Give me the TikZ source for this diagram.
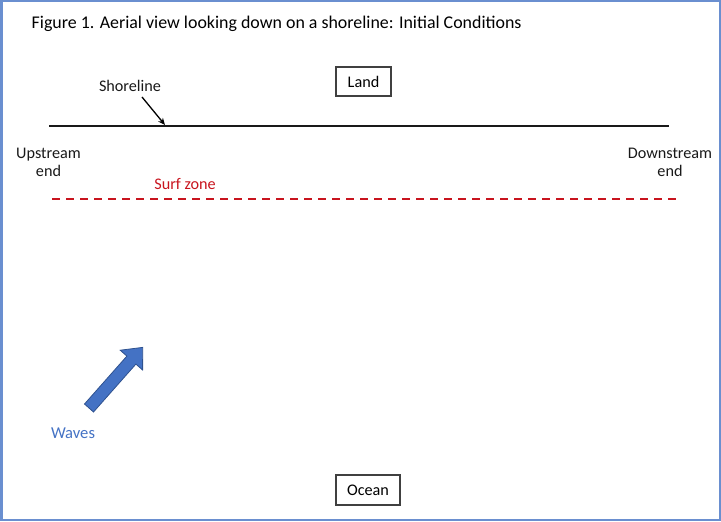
\documentclass[tikz,border=0pt]{standalone}
\usepackage{fontspec}
\setmainfont{Carlito}
\usetikzlibrary{arrows.meta}
\definecolor{frameblue}{HTML}{6A8FD0}
\definecolor{waveblue}{HTML}{4472C4}
\definecolor{waveedge}{HTML}{2F528F}
\definecolor{surfred}{HTML}{C8141E}
\definecolor{boxgrey}{HTML}{404040}
\tikzset{
  lbl/.style={font=\fontsize{16.2bp}{18bp}\selectfont, inner sep=0pt, text=black!90},
  labelbox/.style={draw=boxgrey, line width=1.3bp, inner sep=0pt, font=\fontsize{16.2bp}{18bp}\selectfont},
}
\begin{document}
\begin{tikzpicture}[x=1bp,y=-1bp]
\useasboundingbox (0,0) rectangle (721,522);
\draw[frameblue, line width=2bp] (1.5,1.5) rectangle (719.5,520);
% title
\node[lbl, anchor=base west, text=black, font=\fontsize{17.9bp}{20bp}\selectfont] (title) at (31.5,29) {Figure 1. Aerial view looking down on a shoreline: Initial Conditions};
% boxes
\node[labelbox, minimum width=55bp, minimum height=29bp] (land) at (363.5,81.5) {Land};
\node[labelbox, minimum width=64bp, minimum height=30bp] (ocean) at (368,490) {Ocean};
% shoreline
\coordinate (sl0) at (49,126);
\coordinate (sl1) at (669,126);
\draw[line width=2.6bp, black!90] (sl0) -- (sl1);
\node[lbl, anchor=base] (shorelbl) at (130,92) {Shoreline};
\coordinate (shorestart) at (142,97);
\coordinate (shoretip) at (165,125);
\draw[line width=1.3bp, -{Stealth[length=7bp,width=6bp]}] (shorestart) -- (shoretip);
% ends
\node[lbl, anchor=base] (up1) at (48.5,159) {Upstream};
\node[lbl, anchor=base] (up2) at (48.5,176.5) {end};
\node[lbl, anchor=base] (dn1) at (670,159) {Downstream};
\node[lbl, anchor=base] (dn2) at (670,176.5) {end};
% surf zone
\node[lbl, anchor=base, text=surfred] (surf) at (185,190) {Surf zone};
\coordinate (sz0) at (52,199.5);
\coordinate (sz1) at (677,199.5);
\draw[surfred, line width=2bp, dash pattern=on 8bp off 6bp] (sz0) -- (sz1);
% waves arrow
\filldraw[fill=waveblue, draw=waveedge, line width=0.8bp, line join=miter]
  (84.5,404.0) -- (126.9,356.1) -- (120.2,350.2) -- (142.7,347.4)
  -- (142.6,370.0) -- (135.9,364.1) -- (93.5,412.0) -- cycle;
\node[lbl, anchor=base, text=waveblue, font=\fontsize{16.6bp}{18bp}\selectfont] (waves) at (73,438.5) {Waves};
\end{tikzpicture}
\end{document}
